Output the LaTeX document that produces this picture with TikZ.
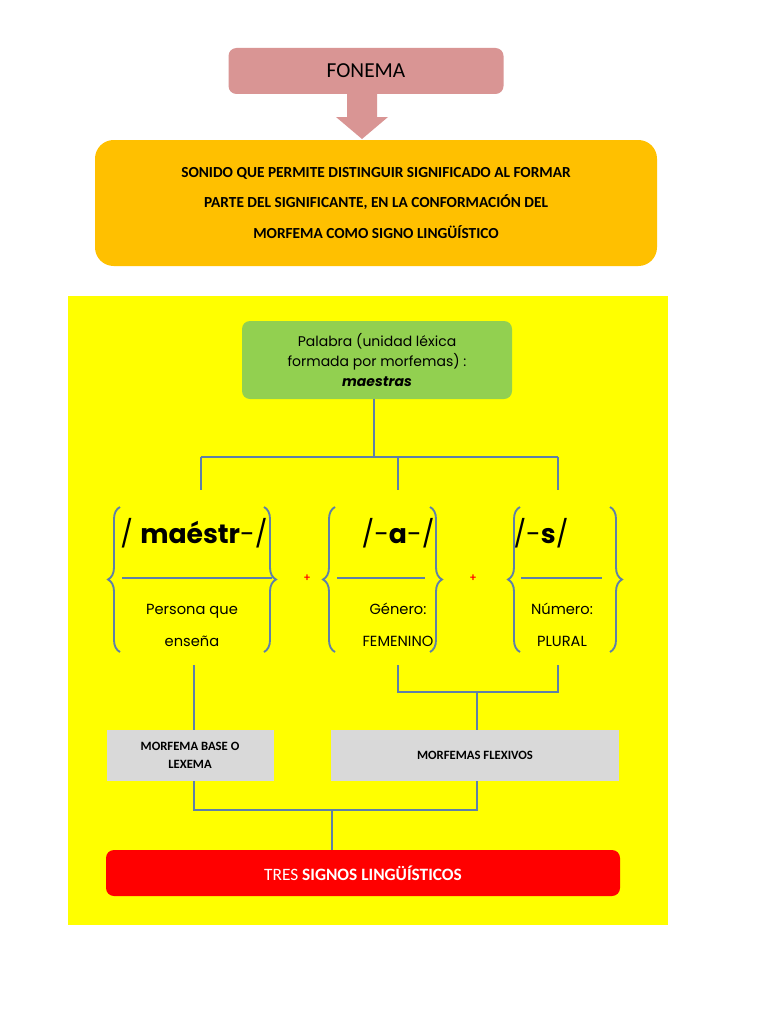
\documentclass[tikz,border=0pt]{standalone}
\usepackage{fontspec}
\setmainfont{Carlito}
\newfontfamily\gothic{Poppins}
\usetikzlibrary{decorations.pathreplacing}
\definecolor{rosa}{HTML}{D99594}
\definecolor{naranja}{HTML}{FFC000}
\definecolor{amarillo}{HTML}{FFFF00}
\definecolor{verde}{HTML}{92D050}
\definecolor{gris}{HTML}{D9D9D9}
\definecolor{azul}{HTML}{5E80A8}
\tikzset{
  caja/.style={rounded corners=6pt,inner sep=0pt,align=center},
  gcaja/.style={fill=gris,inner sep=0pt,align=center,font=\bfseries\fontsize{9.5}{13}\selectfont},
  enlace/.style={azul,line width=0.9pt},
  llave/.style={azul,line width=1.4pt,decorate,decoration={brace,amplitude=9}},
  morfo/.style={font=\gothic\fontsize{20}{24}\selectfont},
  sig/.style={font=\gothic\fontsize{11}{24}\selectfont,align=center},
  mas/.style={red,font=\bfseries\fontsize{9}{9}\selectfont}
}
\begin{document}
\begin{tikzpicture}[x=0.75pt,y=-0.75pt]
\useasboundingbox (0,0) rectangle (768,1024);
\fill[white] (0,0) rectangle (768,1024);

% encabezado
\node[caja,fill=rosa,minimum width=275*0.75pt,minimum height=46*0.75pt,
  font=\fontsize{16}{18}\selectfont] (fonema) at (366,71) {FONEMA};
\fill[rosa] (347,94) -- (377,94) -- (377,117) -- (388,117) -- (362,139)
  -- (336,117) -- (347,117) -- cycle;
\node[caja,fill=naranja,rounded corners=14pt,minimum width=562*0.75pt,minimum height=126*0.75pt,
  font=\bfseries\fontsize{11.5}{23}\selectfont] (sonido) at (376,203)
  {SONIDO QUE PERMITE DISTINGUIR SIGNIFICADO AL FORMAR\\
   PARTE DEL SIGNIFICANTE, EN LA CONFORMACIÓN DEL\\
   MORFEMA COMO SIGNO LINGÜÍSTICO};

% fondo
\fill[amarillo] (68,296) rectangle (668,925);

\node[caja,fill=verde,minimum width=270*0.75pt,minimum height=78*0.75pt,
  font=\gothic\fontsize{10.5}{15}\selectfont] (palabra) at (377,360)
  {Palabra (unidad léxica\\ formada por morfemas) :\\ \textbf{\textit{maestras}}};

\coordinate (p0) at (374,457);
\coordinate (pa) at (201,457);
\coordinate (pb) at (398,457);
\coordinate (pc) at (558,457);
\draw[enlace] (palabra.south -| p0) -- (p0);
\draw[enlace] (pa) -- (pc);
\draw[enlace] (pa) -- (201,490);
\draw[enlace] (pb) -- (398,490);
\draw[enlace] (pc) -- (558,490);

% morfemas
\draw[llave] (120,652) -- (120,507);
\draw[llave] (264,507) -- (264,652);
\draw[llave] (335,652) -- (335,507);
\draw[llave] (430,507) -- (430,652);
\draw[llave] (520,652) -- (520,507);
\draw[llave] (610,507) -- (610,652);
\draw[enlace] (122,578) -- (272,578);
\draw[enlace] (337,578) -- (425,578);
\draw[enlace] (521,578) -- (602,578);
\node[mas] (mas1) at (307,578) {+};
\node[mas] (mas2) at (473,578) {+};

\node[morfo] (lexema) at (194,533) {/ \textbf{maéstr}-/};
\node[morfo] (genero) at (398,533) {/-\textbf{a}-/};
\node[morfo] (numero) at (541,533) {/-\textbf{s}/};
\node[sig] (lexsig) at (192,625) {Persona que\\ enseña};
\node[sig] (gensig) at (398,625) {Género:\\ FEMENINO};
\node[sig] (numsig) at (562,625) {Número:\\ PLURAL};

% clasificación
\node[gcaja,minimum width=167*0.75pt,minimum height=51*0.75pt] (base) at (190,755.5)
  {MORFEMA BASE O\\ LEXEMA};
\node[gcaja,minimum width=288*0.75pt,minimum height=51*0.75pt] (flex) at (475,755.5)
  {MORFEMAS FLEXIVOS};
\coordinate (f0) at (477,692);
\draw[enlace] (194,665) -- (194,730);
\draw[enlace] (398,665) -- (398,692) -- (558,692) -- (558,665);
\draw[enlace] (f0) -- (f0 |- flex.north);
\coordinate (t0) at (332,810);
\draw[enlace] (194,781) -- (194,810) -- (477,810) -- (477,781);

\node[caja,fill=red,minimum width=514*0.75pt,minimum height=46*0.75pt,text=white,
  font=\fontsize{13}{15}\selectfont] (tres) at (363,873)
  {TRES \textbf{SIGNOS LINGÜÍSTICOS}};
\draw[enlace] (t0) -- (t0 |- tres.north);
\end{tikzpicture}
\end{document}
